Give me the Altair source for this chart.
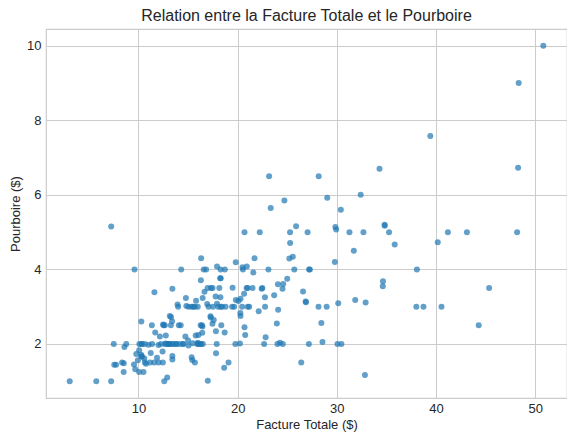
import altair as alt
import pandas as pd

total_bill = [
    16.99, 10.34, 21.01, 23.68, 24.59, 25.29, 8.77, 26.88, 15.04, 14.78,
    10.27, 35.26, 15.42, 18.43, 14.83, 21.58, 10.33, 16.29, 16.97, 20.65,
    17.92, 20.29, 15.77, 39.42, 19.82, 17.81, 13.37, 12.69, 21.70, 19.65,
    9.55, 18.35, 15.06, 20.69, 17.78, 24.06, 16.31, 16.93, 18.69, 31.27,
    16.04, 17.46, 13.94, 9.68, 30.40, 18.29, 22.23, 32.40, 28.55, 18.04,
    12.54, 10.29, 34.81, 9.94, 25.56, 19.49, 38.01, 26.41, 11.24, 48.27,
    20.29, 13.81, 11.02, 18.29, 17.59, 20.08, 16.45, 3.07, 20.23, 15.01,
    12.02, 17.07, 26.86, 25.28, 14.73, 10.51, 17.92, 27.20, 22.76, 17.29,
    19.44, 16.66, 10.07, 32.68, 15.98, 34.83, 13.03, 18.28, 24.71, 21.16,
    28.97, 22.49, 5.75, 16.32, 22.75, 40.17, 27.28, 12.03, 21.01, 12.46,
    11.35, 15.38, 44.30, 22.42, 20.92, 15.36, 20.49, 25.21, 18.24, 14.31,
    14.00, 7.25, 38.07, 23.95, 25.71, 17.31, 29.93, 10.65, 12.43, 24.08,
    11.69, 13.42, 14.26, 15.95, 12.48, 29.80, 8.52, 14.52, 11.38, 22.82,
    19.08, 20.27, 11.17, 12.26, 18.26, 8.51, 10.33, 14.15, 16.00, 13.16,
    17.47, 34.30, 41.19, 27.05, 16.43, 8.35, 18.64, 11.87, 9.78, 7.51,
    14.07, 13.13, 17.26, 24.55, 19.77, 29.85, 48.17, 25.00, 13.39, 16.49,
    21.50, 12.66, 16.21, 13.81, 17.51, 24.52, 20.76, 31.71, 10.59, 10.63,
    50.81, 15.81, 7.25, 31.85, 16.82, 32.90, 17.89, 14.48, 9.60, 34.63,
    34.65, 23.33, 45.35, 23.17, 40.55, 20.69, 20.90, 30.46, 18.15, 23.10,
    15.69, 19.81, 28.44, 15.48, 16.58, 7.56, 10.34, 43.11, 13.00, 13.51,
    18.71, 12.74, 13.00, 16.40, 20.53, 16.47, 26.59, 38.73, 24.27, 12.76,
    30.06, 25.89, 48.33, 13.27, 28.17, 12.90, 28.15, 11.59, 7.74, 30.14,
    12.16, 13.42, 8.58, 15.98, 13.42, 16.27, 10.09, 20.45, 13.28, 22.12,
    24.01, 15.69, 11.61, 10.77, 15.53, 10.07, 12.60, 32.83, 35.83, 29.03,
    27.18, 22.67, 17.82, 18.78,
]

tip = [
    1.01, 1.66, 3.50, 3.31, 3.61, 4.71, 2.00, 3.12, 1.96, 3.23,
    1.71, 5.00, 1.57, 3.00, 3.02, 3.92, 1.67, 3.71, 3.50, 3.35,
    4.08, 2.75, 2.23, 7.58, 3.18, 2.34, 2.00, 2.00, 4.30, 3.00,
    1.45, 2.50, 3.00, 2.45, 3.27, 3.60, 2.00, 3.07, 2.31, 5.00,
    2.24, 2.54, 3.06, 1.32, 5.60, 3.00, 5.00, 6.00, 2.05, 3.00,
    2.50, 2.60, 5.20, 1.56, 4.34, 3.51, 3.00, 1.50, 1.76, 6.73,
    3.21, 2.00, 1.98, 3.76, 2.64, 3.15, 2.47, 1.00, 2.01, 2.09,
    1.97, 3.00, 3.14, 5.00, 2.20, 1.25, 3.08, 4.00, 3.00, 2.71,
    3.00, 3.40, 1.83, 5.00, 2.03, 5.17, 2.00, 4.00, 5.85, 3.00,
    3.00, 3.50, 1.00, 4.30, 3.25, 4.73, 4.00, 1.50, 3.00, 1.50,
    2.50, 3.00, 2.50, 3.48, 4.08, 1.64, 4.06, 4.29, 3.76, 4.00,
    3.00, 1.00, 4.00, 2.55, 4.00, 3.50, 5.07, 1.50, 1.80, 2.92,
    2.31, 1.68, 2.50, 2.00, 2.52, 4.20, 1.48, 2.00, 2.00, 2.18,
    1.50, 2.83, 1.50, 2.00, 3.25, 1.25, 2.00, 2.00, 2.00, 2.75,
    3.50, 6.70, 5.00, 5.00, 2.30, 1.50, 1.36, 1.63, 1.73, 2.00,
    2.50, 2.00, 2.74, 2.00, 2.00, 5.14, 5.00, 3.75, 2.61, 2.00,
    3.50, 2.50, 2.00, 2.00, 3.00, 3.48, 2.24, 4.50, 1.61, 2.00,
    10.00, 3.16, 5.15, 3.18, 4.00, 3.11, 2.00, 2.00, 4.00, 3.55,
    3.68, 5.65, 3.50, 6.50, 3.00, 5.00, 3.50, 2.00, 3.50, 4.00,
    1.50, 4.19, 2.56, 2.02, 4.00, 1.44, 2.00, 5.00, 2.00, 2.00,
    4.00, 2.01, 2.00, 2.50, 4.00, 3.23, 3.41, 3.00, 2.03, 2.23,
    2.00, 5.16, 9.00, 2.50, 6.50, 1.10, 3.00, 1.50, 1.44, 3.09,
    2.20, 3.48, 1.92, 3.00, 1.58, 2.50, 2.00, 3.00, 2.72, 2.88,
    2.00, 3.00, 3.39, 1.47, 3.00, 1.25, 1.00, 1.17, 4.67, 5.92,
    2.00, 2.00, 1.75, 3.00,
]

x_ticks = [10, 20, 30, 40, 50]
y_ticks = [2, 4, 6, 8, 10]

df = pd.DataFrame({"total_bill": total_bill, "tip": tip})

font = "Liberation Sans"

chart = (
    alt.Chart(df)
    .mark_circle(size=36, opacity=0.7, color="#1f77b4")
    .encode(
        x=alt.X(
            "total_bill:Q",
            title="Facture Totale ($)",
            scale=alt.Scale(domain=[0.68, 53.2], nice=False, zero=False),
            axis=alt.Axis(values=x_ticks, format="d", labelPadding=4, titlePadding=3),
        ),
        y=alt.Y(
            "tip:Q",
            title="Pourboire ($)",
            scale=alt.Scale(domain=[0.55, 10.45], nice=False, zero=False),
            axis=alt.Axis(values=y_ticks, format="d", labelPadding=5, titlePadding=4),
        ),
    )
    .properties(
        width=521,
        height=369,
        title=alt.TitleParams(
            "Relation entre la Facture Totale et le Pourboire",
            font=font,
            fontSize=16,
            fontWeight="normal",
            color="#262626",
            offset=5,
        ),
        autosize=alt.AutoSizeParams(type="none"),
        padding={"left": 38, "top": 21, "right": 0, "bottom": 35},
    )
    .configure_view(stroke="#cccccc", strokeWidth=1.2)
    .configure_axis(
        labelFont=font,
        titleFont=font,
        labelFontSize=13,
        titleFontSize=13,
        titleFontWeight="normal",
        labelColor="#262626",
        titleColor="#262626",
        gridColor="#cccccc",
        gridWidth=1,
        domain=False,
        ticks=False,
    )
)

chart.save("out.html", embed_options={"renderer": "svg", "actions": False})
